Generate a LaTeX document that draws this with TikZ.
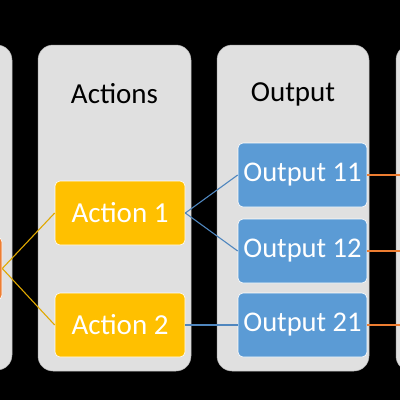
\documentclass[tikz,border=0pt]{standalone}
\usepackage{fontspec}
\setmainfont{Carlito}
\definecolor{panelgray}{HTML}{E0E0E0}
\definecolor{gold}{HTML}{FFC000}
\definecolor{sky}{HTML}{5B9BD5}
\definecolor{tang}{HTML}{ED7D31}
\definecolor{linkblue}{HTML}{4F86BE}
\definecolor{linkgold}{HTML}{E0A800}
\tikzset{
  panel/.style={fill=panelgray, draw=gray!60, line width=0.5pt, rounded corners=15pt},
  actbox/.style={fill=gold, draw=white, line width=0.6pt, rounded corners=5pt, minimum width=130pt, minimum height=64pt, inner sep=0pt, text=white, font=\fontsize{29}{32}\selectfont},
  outbox/.style={fill=sky, draw=white, line width=0.6pt, rounded corners=5pt, minimum width=129pt, minimum height=64pt, inner sep=0pt, text=white, font=\fontsize{28.5}{32}\selectfont},
  srcbox/.style={fill=tang, draw=white, line width=0.6pt, rounded corners=5pt, minimum width=60pt, minimum height=63pt, inner sep=0pt},
  title/.style={font=\fontsize{29}{32}\selectfont, text=black, inner sep=0pt},
  goldlink/.style={draw=linkgold, line width=1.1pt},
  bluelink/.style={draw=linkblue, line width=1.1pt},
  tanglink/.style={draw=tang, line width=1.2pt}
}
\begin{document}
\begin{tikzpicture}[x=1pt, y=-1pt]
\useasboundingbox (0,0) rectangle (400,400);
\clip (0,0) rectangle (400,400);
\fill[black] (0,0) rectangle (400,400);
% panels
\draw[panel] (-150,45) rectangle (12,370);
\draw[panel] (38,45) rectangle (191,371);
\draw[panel] (217,45) rectangle (369,371);
\draw[panel] (396,45) rectangle (560,371);
% titles
\node[title] (tact) at (114.5,94) {Actions};
\node[title] (tout) at (293,94) {Output};
% source box
\node[srcbox] (src) at (-28,268.5) {};
% actions
\node[actbox] (a1) at (120,213) {Action 1};
\node[actbox] (a2) at (120,325) {Action 2};
% outputs
\node[outbox] (o11) at (302.5,175) {Output 11};
\node[outbox] (o12) at (302.5,251) {Output 12};
\node[outbox] (o21) at (302.5,325) {Output 21};
% free ends
\coordinate (r11) at (420,175);
\coordinate (r12) at (420,251);
\coordinate (r21) at (420,325);
% links
\draw[goldlink] (src.east) -- (a1.west);
\draw[goldlink] (src.east) -- (a2.west);
\draw[bluelink] (a1.east) -- (o11.west);
\draw[bluelink] (a1.east) -- (o12.west);
\draw[bluelink] (a2.east) -- (o21.west);
\draw[tanglink] (o11.east) -- (r11);
\draw[tanglink] (o12.east) -- (r12);
\draw[tanglink] (o21.east) -- (r21);
\end{tikzpicture}
\end{document}
